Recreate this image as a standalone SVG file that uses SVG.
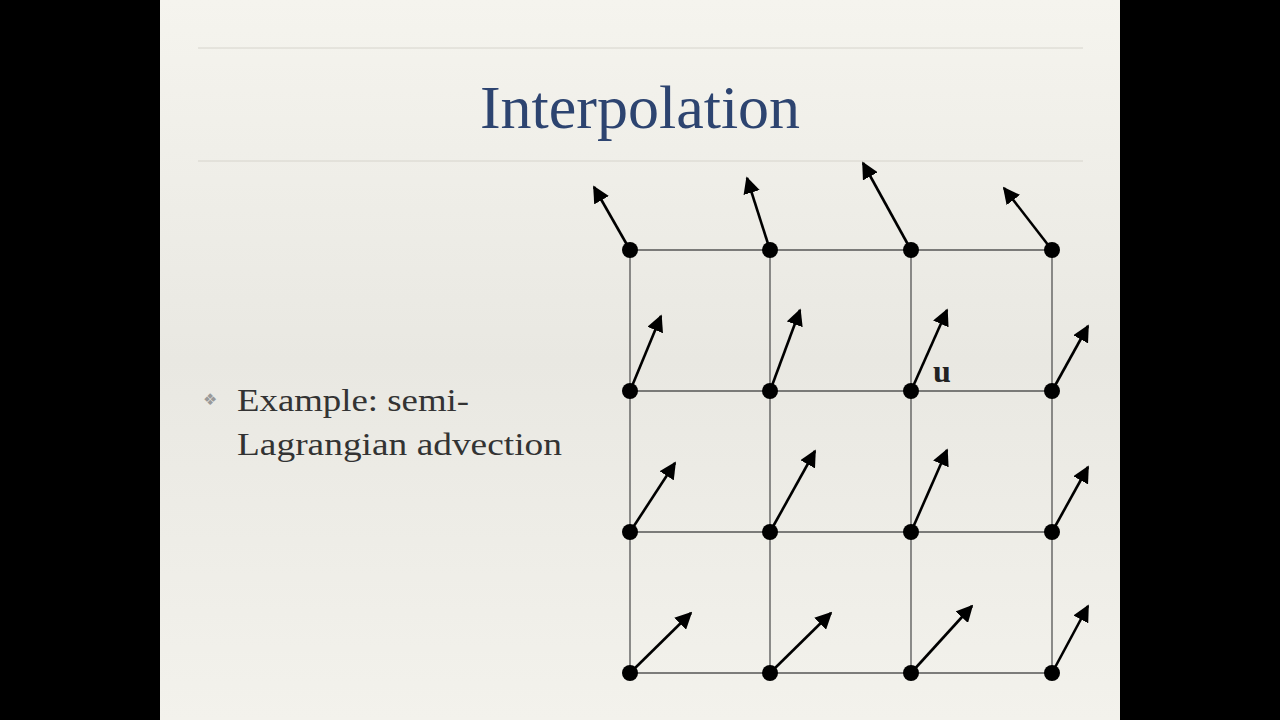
<svg xmlns="http://www.w3.org/2000/svg" width="1280" height="720" viewBox="0 0 1280 720">
<defs>
<linearGradient id="bg" x1="0" y1="0" x2="0" y2="1"><stop offset="0" stop-color="#f5f4ee"/><stop offset="0.5" stop-color="#e9e8e2"/><stop offset="1" stop-color="#f3f2ec"/></linearGradient>
<marker id="ah" viewBox="0 0 10 10" refX="9" refY="5" markerWidth="6.5" markerHeight="6.5" markerUnits="strokeWidth" orient="auto"><path d="M0,0 L10,5 L0,10 z" fill="#000"/></marker>
</defs>
<style>
.g{stroke:#555;stroke-width:1.3;fill:none}
.a{stroke:#000;stroke-width:2.6;marker-end:url(#ah)}
.d{fill:#000}
</style>
<rect width="1280" height="720" fill="#000"/>
<rect x="160" y="0" width="960" height="720" fill="url(#bg)"/>
<line x1="198" y1="48" x2="1083" y2="48" stroke="#d6d4cc"/>
<line x1="198" y1="161" x2="1083" y2="161" stroke="#d6d4cc"/>
<text x="640" y="128" text-anchor="middle" font-family="Liberation Serif, serif" font-size="62" fill="#2d4470">Interpolation</text>
<g id="bullet">
<text x="203" y="405" font-family="DejaVu Sans, sans-serif" font-size="16" fill="#999">❖</text>
<text x="237" y="411" font-family="Liberation Serif, serif" font-size="31" fill="#333" textLength="232" lengthAdjust="spacingAndGlyphs">Example: semi-</text>
<text x="237" y="455" font-family="Liberation Serif, serif" font-size="31" fill="#333" textLength="325" lengthAdjust="spacingAndGlyphs">Lagrangian advection</text>
</g>
<g id="grid" class="g">
<path d="M630,250 H1052 M630,391 H1052 M630,532 H1052 M630,673 H1052 M630,250 V673 M770,250 V673 M911,250 V673 M1052,250 V673"/>
</g>
<g id="connectors">
<line class="a" x1="630" y1="250" x2="594" y2="187"/>
<line class="a" x1="770" y1="250" x2="747" y2="178"/>
<line class="a" x1="911" y1="250" x2="863" y2="163"/>
<line class="a" x1="1052" y1="250" x2="1004" y2="188"/>
<line class="a" x1="630" y1="391" x2="661" y2="316"/>
<line class="a" x1="770" y1="391" x2="800" y2="310"/>
<line class="a" x1="911" y1="391" x2="947" y2="310"/>
<line class="a" x1="1052" y1="391" x2="1088" y2="326"/>
<line class="a" x1="630" y1="532" x2="675" y2="463"/>
<line class="a" x1="770" y1="532" x2="815" y2="451"/>
<line class="a" x1="911" y1="532" x2="947" y2="450"/>
<line class="a" x1="1052" y1="532" x2="1088" y2="467"/>
<line class="a" x1="630" y1="673" x2="691" y2="613"/>
<line class="a" x1="770" y1="673" x2="831" y2="613"/>
<line class="a" x1="911" y1="673" x2="972" y2="606"/>
<line class="a" x1="1052" y1="673" x2="1088" y2="606"/>
</g>
<g id="nodes" class="d">
<circle cx="630" cy="250" r="8"/><circle cx="770" cy="250" r="8"/><circle cx="911" cy="250" r="8"/><circle cx="1052" cy="250" r="8"/>
<circle cx="630" cy="391" r="8"/><circle cx="770" cy="391" r="8"/><circle cx="911" cy="391" r="8"/><circle cx="1052" cy="391" r="8"/>
<circle cx="630" cy="532" r="8"/><circle cx="770" cy="532" r="8"/><circle cx="911" cy="532" r="8"/><circle cx="1052" cy="532" r="8"/>
<circle cx="630" cy="673" r="8"/><circle cx="770" cy="673" r="8"/><circle cx="911" cy="673" r="8"/><circle cx="1052" cy="673" r="8"/>
</g>
<text x="933" y="382" font-family="Liberation Serif, serif" font-weight="bold" font-size="32" fill="#222">u</text>
</svg>
